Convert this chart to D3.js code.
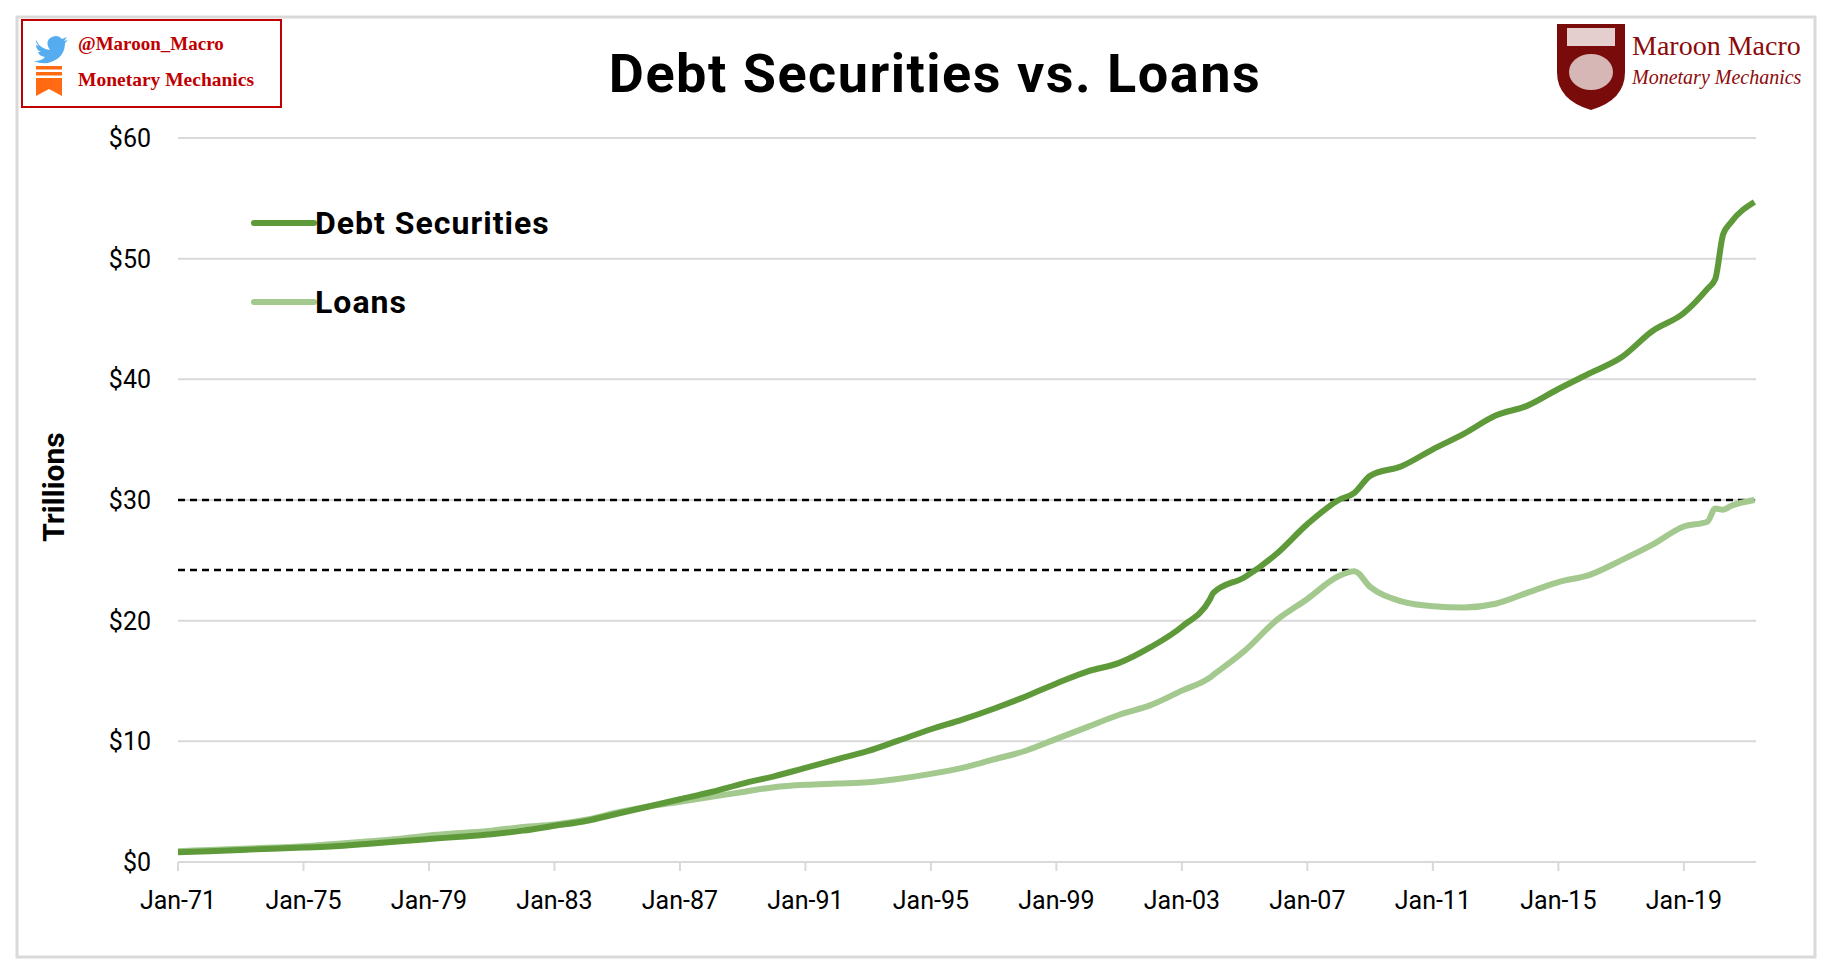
<!DOCTYPE html>
<html><head><meta charset="utf-8">
<script src="https://cdn.jsdelivr.net/npm/d3@7"></script>
<style>body{margin:0;background:#fff;font-family:Roboto,"DejaVu Sans",sans-serif}</style>
</head><body><svg id="c" width="1834" height="973"></svg>
<script>
const years = [1971,1972,1973,1974,1975,1976,1977,1978,1979,1980,1981,1982,1983,1984,1985,1986,1987,1988,1989,1990,1991,1992,1993,1994,1995,1996,1997,1998,1999,2000,2001,2002,2003,2003.9,2004,2005,2006,2007,2008,2008.5,2009,2010,2011,2012,2013,2014,2015,2016,2017,2018,2019,2019.75,2020,2020.25,2020.5,2021.25];
const debtSecurities = [0.8,0.9,1.0,1.1,1.2,1.3,1.5,1.7,1.9,2.1,2.3,2.6,3.0,3.4,4.0,4.6,5.2,5.8,6.5,7.1,7.8,8.5,9.2,10.1,11.0,11.8,12.7,13.7,14.8,15.8,16.5,17.8,19.5,21.8,22.3,23.6,25.5,28.0,30.0,30.6,32.0,32.8,34.2,35.5,37.0,37.8,39.2,40.5,41.8,44.0,45.5,47.5,48.3,52.0,53.0,54.7];
const loans = [0.9,1.0,1.1,1.2,1.3,1.5,1.7,1.9,2.2,2.4,2.6,2.9,3.1,3.5,4.1,4.6,5.0,5.4,5.8,6.2,6.4,6.5,6.6,6.9,7.3,7.8,8.5,9.2,10.2,11.2,12.2,13.0,14.2,15.3,15.5,17.5,20.0,21.8,23.7,24.1,22.8,21.6,21.2,21.1,21.4,22.3,23.2,23.8,25.0,26.3,27.8,28.2,29.3,29.2,29.5,30.0];
const yTicks = [0,10,20,30,40,50,60];
const xTickYears = [1971,1975,1979,1983,1987,1991,1995,1999,2003,2007,2011,2015,2019];
const xTickLabels = ["Jan-71","Jan-75","Jan-79","Jan-83","Jan-87","Jan-91","Jan-95","Jan-99","Jan-03","Jan-07","Jan-11","Jan-15","Jan-19"];
const refLevels = [{v:30,end:2021.25},{v:24.2,end:2008.5}];

const svg = d3.select("#c");
svg.append("rect").attr("x",17).attr("y",17).attr("width",1798).attr("height",940).attr("fill","none").attr("stroke","#d9d9d9").attr("stroke-width",3);

const x = d3.scaleLinear().domain([1971,2021.3]).range([178,1756]);
const y = d3.scaleLinear().domain([0,60]).range([862,138]);

svg.append("g").selectAll("line").data(yTicks.filter(d=>d>0)).join("line")
 .attr("x1",178).attr("x2",1756).attr("y1",d=>y(d)).attr("y2",d=>y(d)).attr("stroke","#d9d9d9").attr("stroke-width",2);
svg.append("line").attr("x1",178).attr("x2",1756).attr("y1",862).attr("y2",862).attr("stroke","#d9d9d9").attr("stroke-width",2);
svg.append("g").selectAll("line").data(xTickYears).join("line")
 .attr("x1",d=>x(d)).attr("x2",d=>x(d)).attr("y1",862).attr("y2",871).attr("stroke","#d9d9d9").attr("stroke-width",2);
svg.append("g").selectAll("text").data(xTickYears).join("text")
 .attr("x",d=>x(d)).attr("y",909).attr("text-anchor","middle").attr("font-size",25).attr("fill","#000")
 .text((d,i)=>xTickLabels[i]);
svg.append("g").selectAll("text").data(yTicks).join("text")
 .attr("x",151).attr("y",d=>y(d)+9).attr("text-anchor","end").attr("font-size",25).text(d=>"$"+d);
svg.append("text").attr("transform","translate(64,487) rotate(-90)").attr("text-anchor","middle")
 .attr("font-size",30).attr("font-weight","bold").text("Trillions");

svg.append("g").selectAll("line").data(refLevels).join("line")
 .attr("x1",178).attr("x2",d=>x(d.end)).attr("y1",d=>y(d.v)).attr("y2",d=>y(d.v))
 .attr("stroke","#000").attr("stroke-width",2.6).attr("stroke-dasharray","7,5");

const line = vals => d3.line().x((d,i)=>x(years[i])).y(d=>y(d)).curve(d3.curveMonotoneX)(vals);
svg.append("path").attr("d",line(loans)).attr("fill","none").attr("stroke","#a3c98f").attr("stroke-width",6);
svg.append("path").attr("d",line(debtSecurities)).attr("fill","none").attr("stroke","#5f9a3a").attr("stroke-width",6);

const leg=[{t:"Debt Securities",c:"#5f9a3a",yy:223},{t:"Loans",c:"#a3c98f",yy:302}];
leg.forEach(l=>{
 svg.append("line").attr("x1",254).attr("x2",314).attr("y1",l.yy).attr("y2",l.yy).attr("stroke",l.c).attr("stroke-width",6).attr("stroke-linecap","round");
 svg.append("text").attr("x",315).attr("y",l.yy+11).attr("font-size",32).attr("font-weight","bold").attr("letter-spacing",1).text(l.t);
});

svg.append("text").attr("x",935).attr("y",92).attr("text-anchor","middle").attr("font-size",54).attr("font-weight","bold").attr("letter-spacing",1.5).text("Debt Securities vs. Loans");

svg.append("rect").attr("x",22).attr("y",20).attr("width",259).attr("height",87).attr("fill","#fff").attr("stroke","#c00000").attr("stroke-width",2);
svg.append("path").attr("d","M36,40 q4,9 14,10 q-6,-9 2,-13 q6,-3 10,2 l5,-2 l-3,4 l4,-1 l-3,3 q0,14 -14,19 q-8,3 -17,-1 q8,0 11,-4 q-6,-1 -7,-5 l3,0 q-5,-2 -5,-7 l3,1 q-4,-4 -3,-6z").attr("fill","#55acee");
svg.append("rect").attr("x",36).attr("y",66).attr("width",26).attr("height",3.5).attr("fill","#ff6a13");
svg.append("rect").attr("x",36).attr("y",72).attr("width",26).attr("height",3.5).attr("fill","#ff6a13");
svg.append("path").attr("d","M36,78 h26 v18 l-13,-7 l-13,7z").attr("fill","#ff6a13");
svg.append("text").attr("x",78).attr("y",50).attr("font-family","Liberation Serif,serif").attr("font-weight","bold").attr("font-size",19).attr("fill","#c00000").text("@Maroon_Macro");
svg.append("text").attr("x",78).attr("y",86).attr("font-family","Liberation Serif,serif").attr("font-weight","bold").attr("font-size",19.5).attr("fill","#c00000").text("Monetary Mechanics");

svg.append("path").attr("d","M1557,24 h68 v48 q0,28 -34,38 q-34,-10 -34,-38z").attr("fill","#7a0b0b");
svg.append("rect").attr("x",1567).attr("y",28).attr("width",48).attr("height",18).attr("fill","#fff").attr("opacity",0.8);
svg.append("ellipse").attr("cx",1591).attr("cy",72).attr("rx",22).attr("ry",18).attr("fill","#fff").attr("opacity",0.7);
svg.append("text").attr("x",1632).attr("y",55).attr("font-family","Liberation Serif,serif").attr("font-size",28).attr("fill","#8b0a0a").text("Maroon Macro");
svg.append("text").attr("x",1632).attr("y",84).attr("font-family","Liberation Serif,serif").attr("font-style","italic").attr("font-size",20).attr("fill","#8b0a0a").text("Monetary Mechanics");
</script></body></html>
